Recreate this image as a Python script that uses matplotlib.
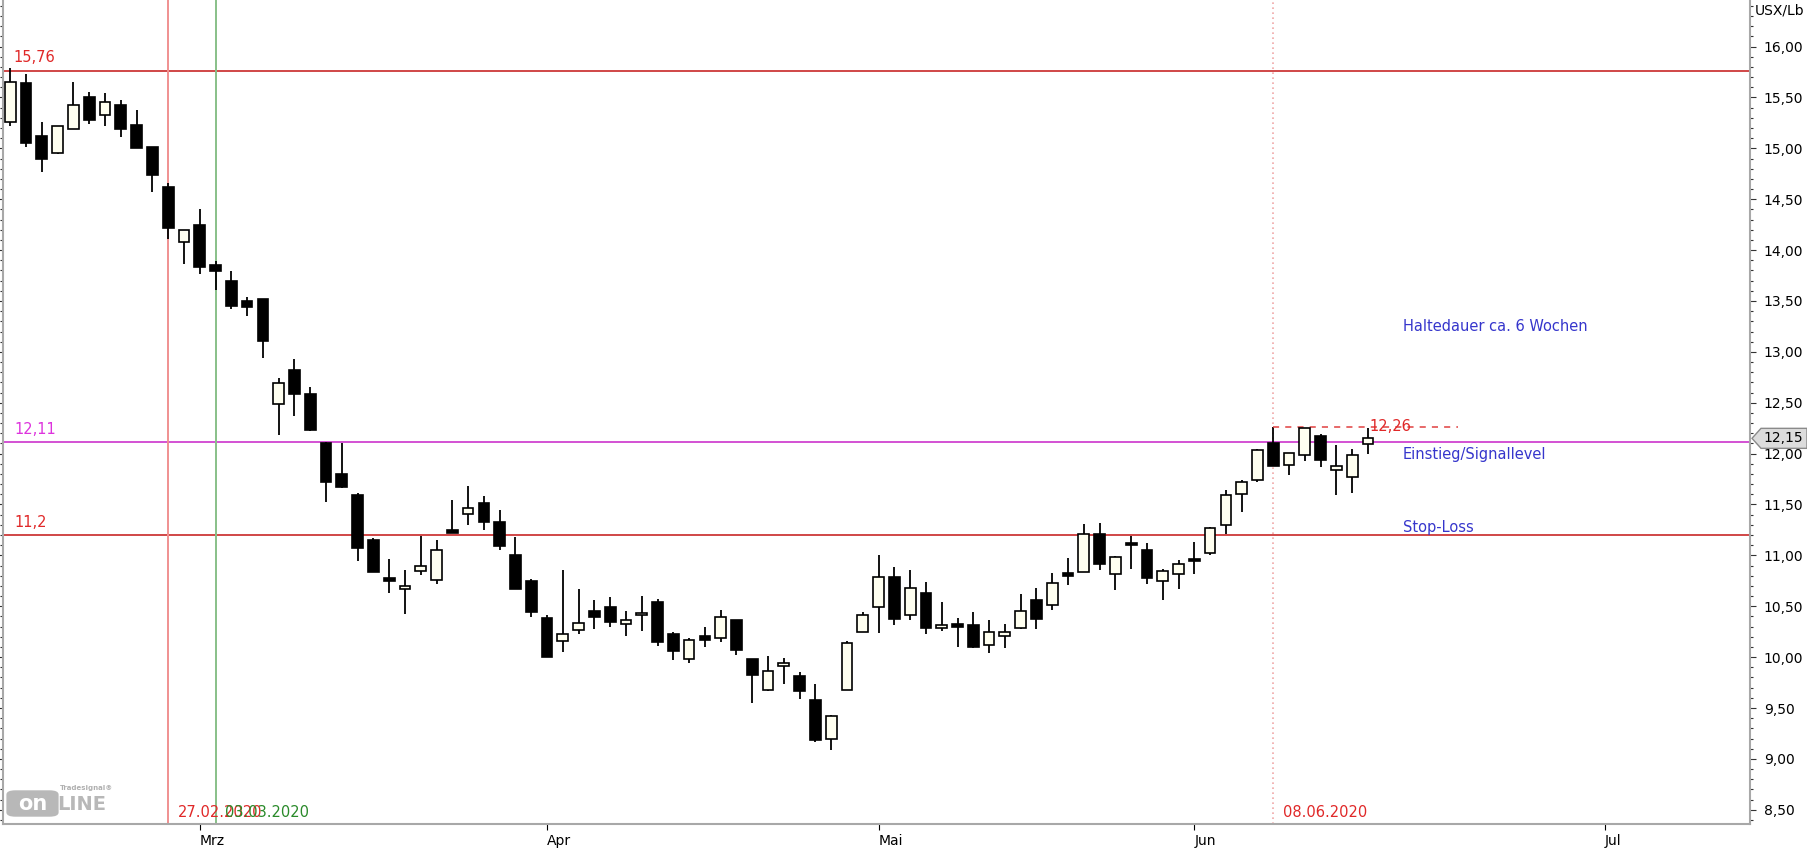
import matplotlib
matplotlib.use("Agg")
import matplotlib.pyplot as plt
from matplotlib.patches import Polygon, FancyBboxPatch
from matplotlib.ticker import MultipleLocator, FuncFormatter
import numpy as np
import pandas as pd

# ---------------- data ----------------
trade_dates = pd.bdate_range("2020-02-12", "2020-06-16", freq="C",
                             holidays=["2020-02-17", "2020-04-10", "2020-05-25"])

opens = [15.26, 15.64, 15.12, 14.95, 15.19, 15.50, 15.33, 15.43, 15.23, 15.01,
         14.62, 14.08, 14.25, 13.85, 13.70, 13.50, 13.52, 12.49, 12.82, 12.59,
         12.10, 11.80, 11.59, 11.15, 10.77, 10.67, 10.85, 10.76, 11.24, 11.41,
         11.51, 11.33, 11.00, 10.75, 10.38, 10.16, 10.27, 10.45, 10.49, 10.33,
         10.41, 10.54, 10.23, 9.98, 10.21, 10.19, 10.36, 9.98, 9.68, 9.915,
         9.81, 9.58, 9.20, 9.68, 10.25, 10.49, 10.79, 10.41, 10.63, 10.29,
         10.32, 10.32, 10.12, 10.21, 10.29, 10.56, 10.51, 10.83, 10.84, 11.21,
         10.82, 11.11, 11.05, 10.75, 10.82, 10.96, 11.02, 11.30, 11.60, 11.74,
         12.10, 11.89, 11.99, 12.17, 11.84, 11.77, 12.09]
highs = [15.79, 15.73, 15.26, 15.22, 15.65, 15.55, 15.54, 15.48, 15.38, 15.01,
         14.66, 14.20, 14.40, 13.89, 13.79, 13.54, 13.52, 12.74, 12.93, 12.65,
         12.11, 12.10, 11.61, 11.17, 10.96, 10.86, 11.19, 11.15, 11.54, 11.68,
         11.58, 11.45, 11.18, 10.77, 10.41, 10.86, 10.67, 10.56, 10.59, 10.45,
         10.60, 10.57, 10.25, 10.19, 10.30, 10.46, 10.36, 9.98, 10.01, 9.99,
         9.85, 9.74, 9.43, 10.16, 10.44, 11.00, 10.89, 10.86, 10.74, 10.54,
         10.38, 10.44, 10.36, 10.33, 10.62, 10.68, 10.83, 10.97, 11.31, 11.32,
         10.99, 11.19, 11.12, 10.87, 10.95, 11.13, 11.28, 11.64, 11.74, 12.05,
         12.26, 12.01, 12.25, 12.19, 12.08, 12.05, 12.25]
lows = [15.22, 15.01, 14.77, 14.94, 15.19, 15.24, 15.22, 15.11, 15.00, 14.57,
        14.11, 13.86, 13.77, 13.61, 13.42, 13.35, 12.94, 12.18, 12.37, 12.22,
        11.52, 11.66, 10.94, 10.84, 10.63, 10.42, 10.81, 10.72, 11.22, 11.30,
        11.25, 11.05, 10.67, 10.39, 10.00, 10.05, 10.23, 10.28, 10.30, 10.21,
        10.26, 10.11, 9.97, 9.94, 10.10, 10.15, 10.02, 9.55, 9.67, 9.74,
        9.59, 9.17, 9.09, 9.68, 10.25, 10.24, 10.32, 10.36, 10.23, 10.26,
        10.10, 10.09, 10.04, 10.09, 10.28, 10.28, 10.46, 10.71, 10.84, 10.86,
        10.66, 10.87, 10.72, 10.56, 10.67, 10.82, 11.00, 11.21, 11.43, 11.72,
        11.88, 11.79, 11.93, 11.87, 11.59, 11.61, 12.00]
closes = [15.65, 15.05, 14.90, 15.22, 15.43, 15.28, 15.46, 15.19, 15.00, 14.74,
          14.22, 14.20, 13.83, 13.79, 13.45, 13.44, 13.11, 12.69, 12.59, 12.23,
          11.72, 11.67, 11.07, 10.84, 10.75, 10.70, 10.90, 11.05, 11.22, 11.47,
          11.33, 11.09, 10.67, 10.44, 10.00, 10.23, 10.34, 10.39, 10.35, 10.36,
          10.43, 10.15, 10.06, 10.17, 10.17, 10.39, 10.07, 9.82, 9.86, 9.925,
          9.67, 9.19, 9.42, 10.14, 10.41, 10.79, 10.37, 10.68, 10.29, 10.32,
          10.30, 10.10, 10.25, 10.25, 10.45, 10.37, 10.73, 10.80, 11.21, 10.92,
          10.98, 11.10, 10.78, 10.85, 10.92, 10.94, 11.27, 11.59, 11.72, 12.04,
          11.88, 12.01, 12.25, 11.94, 11.88, 11.99, 12.15]

month_labels = ["Mrz", "Apr", "Mai", "Jun", "Jul"]
month_starts = ["2020-03-01", "2020-04-01", "2020-05-01", "2020-06-01", "2020-07-01"]

level_high, level_signal, level_stop = 15.76, 12.11, 11.2
recent_high = 12.26
last_price = 12.15
signal_dates = ["2020-02-27", "2020-03-03", "2020-06-08"]
signal_labels = ["27.02.2020", "03.03.2020", "08.06.2020"]

# ---------------- helpers ----------------
W, H = 1807, 850
def pos_of(date):
    d = pd.Timestamp(date)
    if d <= trade_dates[-1]:
        return int(np.searchsorted(trade_dates.values, np.datetime64(d)))
    return len(trade_dates) - 1 + (d - trade_dates[-1]).days

x = np.arange(len(opens))
o, h, l, c = map(np.array, (opens, highs, lows, closes))

fig = plt.figure(figsize=(W / 100, H / 100), dpi=100)
ax = fig.add_axes([2.7 / W, 26 / H, (1750 - 2.7) / W, 824 / H])
ax.set_xlim(-0.481, 110.2)
ax.set_ylim(8.36, 16.458)

# horizontal levels
ax.axhline(level_high, color="#c82828", lw=1.2, zorder=1)
ax.axhline(level_signal, color="#cc33cc", lw=1.2, zorder=1)
ax.axhline(level_stop, color="#c82828", lw=1.2, zorder=1)

# vertical signal lines
sig_pos = [pos_of(d) for d in signal_dates]
ax.axvline(sig_pos[0], color="#f09090", lw=1.4, zorder=1)
ax.axvline(sig_pos[1], color="#88c088", lw=1.4, zorder=1)
ax.axvline(sig_pos[2], color="#f0a8a8", lw=1.2, ls=(0, (1, 2)), zorder=1)

# candles
up = c >= o
body_lo = np.minimum(o, c)
body_h = np.maximum(np.abs(c - o), 0.025)
ax.vlines(x, l, h, color="black", lw=1.3, zorder=2)
ax.bar(x, body_h, bottom=body_lo, width=0.68,
       color=np.where(up, "#fffff0", "black"), edgecolor="black", lw=1.2, zorder=3)

# dashed recent high
ax.hlines(recent_high, sig_pos[2], 91.7, colors="#e04040", lw=1.1,
          linestyles=(0, (4, 4)), zorder=2)

# texts
fs = 10.5
def px2x(px): return (px - 10.3) / 15.786
def py2p(py): return 11.2 + (535 - py) / 101.75

ax.text(px2x(13), py2p(62), "15,76", color="#e02828", fontsize=fs, va="baseline")
ax.text(px2x(14), py2p(434), "12,11", color="#dd33dd", fontsize=fs, va="baseline")
ax.text(px2x(14), py2p(526.5), "11,2", color="#e02828", fontsize=fs, va="baseline")
ax.text(px2x(1369), py2p(430.5), "12,26", color="#e02828", fontsize=fs, va="baseline")
ax.text(px2x(1403), py2p(331), "Haltedauer ca. 6 Wochen", color="#3636cc", fontsize=fs, va="baseline")
ax.text(px2x(1403), py2p(458.5), "Einstieg/Signallevel", color="#3636cc", fontsize=fs, va="baseline")
ax.text(px2x(1403), py2p(532), "Stop-Loss", color="#3636cc", fontsize=fs, va="baseline")

for p, lab, col in zip(sig_pos, signal_labels, ["#e02828", "#2a8a2a", "#e02828"]):
    ax.text(p + 0.63, py2p(817), lab, color=col, fontsize=fs, va="baseline")

# axes styling
ax.spines["top"].set_visible(False)
for s in ["left", "right", "bottom"]:
    ax.spines[s].set_color("#a8a8a8")
    ax.spines[s].set_linewidth(1.5)

ax.yaxis.set_major_locator(MultipleLocator(0.5))
ax.yaxis.set_minor_locator(MultipleLocator(0.1))
ax.yaxis.set_major_formatter(FuncFormatter(lambda v, _: f"{v:.2f}".replace(".", ",")))
ax.tick_params(axis="y", which="both", left=True, right=True, labelleft=False,
               labelright=True, direction="out", color="#333333", width=0.8)
ax.tick_params(axis="y", which="major", length=4, pad=6, labelsize=10)
ax.tick_params(axis="y", which="minor", length=2.5)

mpos = [pos_of(d) for d in month_starts]
ax.set_xticks(mpos)
ax.set_xticklabels(month_labels)
ax.tick_params(axis="x", length=4, width=0.8, pad=3, labelsize=10)
for t in ax.get_xticklabels():
    t.set_ha("left")

# last price marker
def fx(px): return px / W
def fy(py): return 1 - py / H
yy = 535 - (last_price - 11.2) * 101.75
poly = Polygon([(fx(1752), fy(yy)), (fx(1761), fy(yy - 10)), (fx(1807), fy(yy - 10)),
                (fx(1807), fy(yy + 10)), (fx(1761), fy(yy + 10))],
               closed=True, transform=fig.transFigure, facecolor="#dcdcdc",
               edgecolor="#8a8a8a", lw=1.0, zorder=10)
fig.patches.append(poly)
fig.text(fx(1763), fy(yy), f"{last_price:.2f}".replace(".", ","), fontsize=10,
         va="center", ha="left", zorder=11)

fig.text(fx(1755), fy(10), "USX/Lb", fontsize=10, va="center", ha="left")

# logo
logo = FancyBboxPatch((fx(10), fy(815)), fx(45), fy(792) - fy(815),
                      boxstyle="round,pad=0.002,rounding_size=0.005",
                      transform=fig.transFigure, facecolor="#b8b8b8",
                      edgecolor="none", zorder=5)
fig.patches.append(logo)
fig.text(fx(32.5), fy(804), "on", color="white", fontsize=15, fontweight="bold",
         ha="center", va="center", zorder=6)
fig.text(fx(57), fy(804), "LINE", color="#b8b8b8", fontsize=14, fontweight="bold",
         ha="left", va="center", zorder=6)
fig.text(fx(60), fy(788), "Tradesignal\u00ae", color="#b0b0b0", fontsize=5,
         fontweight="bold", ha="left", va="center", zorder=6)

fig.savefig("out.png", dpi=100, facecolor="white")
